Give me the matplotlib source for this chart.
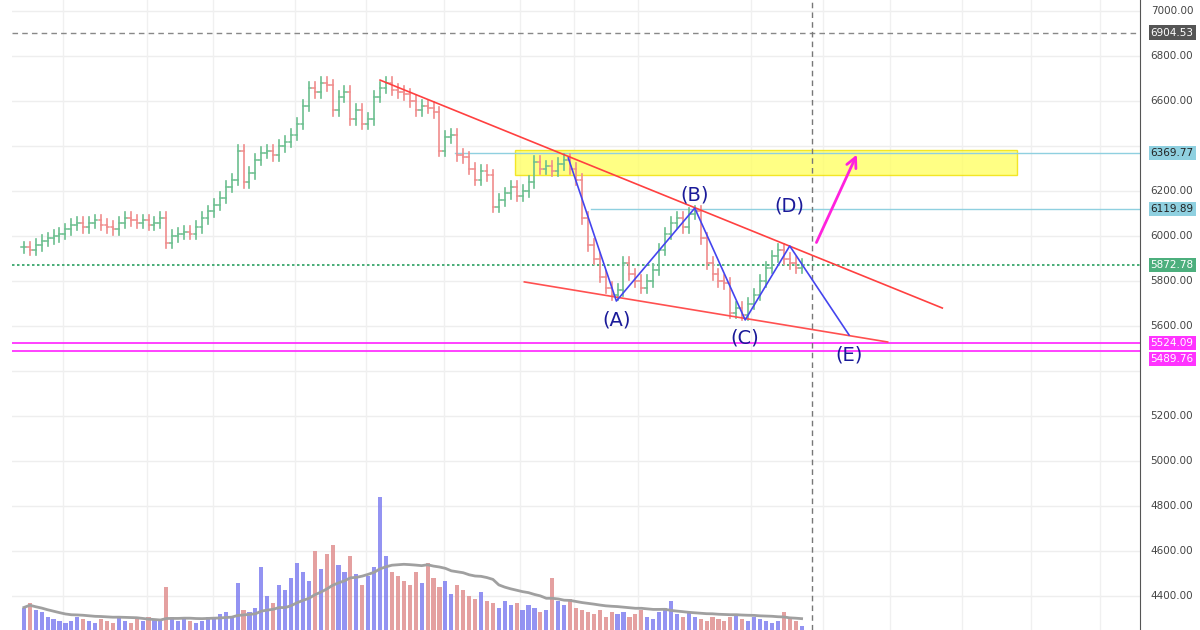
import numpy as np
import matplotlib.pyplot as plt
from matplotlib.patches import Rectangle

# === Price data (daily closes) ===
closes = [
    5950, 5940, 5960, 5980, 5990, 6000, 6010, 6030, 6050, 6060,
    6040, 6060, 6070, 6050, 6040, 6030, 6060, 6080, 6070, 6060,
    6070, 6050, 6060, 6080, 5970, 6000, 6010, 6020, 6010, 6040,
    6080, 6110, 6140, 6170, 6220, 6250, 6380, 6240, 6280, 6340,
    6370, 6380, 6360, 6400, 6420, 6450, 6500, 6580, 6660, 6640,
    6680, 6670, 6560, 6620, 6640, 6520, 6560, 6500, 6520, 6620,
    6660, 6680, 6650, 6640, 6630, 6600, 6560, 6580, 6570, 6550,
    6380, 6440, 6450, 6360, 6350, 6300, 6250, 6290, 6270, 6130,
    6160, 6190, 6220, 6180, 6200, 6240, 6330, 6300, 6310, 6290,
    6320, 6340, 6300, 6250, 6080, 5960, 5900, 5820, 5770, 5740,
    5760, 5880, 5830, 5800, 5770, 5800, 5850, 5940, 6010, 6060,
    6080, 6040, 6100, 6110, 5990, 5880, 5830, 5800, 5790, 5660,
    5680, 5650, 5700, 5740, 5800, 5860, 5910, 5940, 5900, 5880,
    5860, 5872.78,
]
volumes = [
    100, 120, 90, 80, 60, 50, 40, 30, 40, 60,
    50, 40, 30, 50, 40, 30, 60, 40, 30, 50,
    40, 60, 50, 40, 190, 60, 40, 50, 40, 30,
    40, 60, 50, 70, 80, 60, 210, 90, 80, 100,
    280, 150, 120, 200, 180, 230, 300, 260, 220, 350,
    270, 340, 380, 290, 260, 330, 250, 200, 240, 280,
    590, 330, 260, 240, 220, 200, 260, 210, 300, 230,
    190, 220, 160, 200, 180, 150, 140, 170, 130, 120,
    100, 130, 110, 120, 90, 110, 100, 80, 90, 230,
    130, 110, 140, 100, 90, 80, 70, 90, 60, 80,
    70, 80, 60, 70, 90, 60, 50, 80, 100, 130,
    70, 60, 80, 60, 50, 40, 60, 50, 40, 60,
    70, 50, 40, 60, 50, 40, 30, 40, 80, 50,
    40, 20,
]

# wave points (bar index, price)
wave_x = [91.7, 99.8, 113.0, 121.5, 129.0, 139.0]
wave_y = [6347, 5711, 6124, 5627, 5956, 5560]
wave_labels = ["(A)", "(B)", "(C)", "(D)", "(E)"]
label_y = [5627, 6182, 5547, 6133, 5471]

price_levels = [6904.53, 6369.77, 6119.89, 5872.78, 5524.09, 5489.76]
axis_ticks = [4400, 4600, 4800, 5000, 5200, 5400, 5600, 5800, 6000, 6200, 6400, 6600, 6800, 7000]

YMIN, YMAX = 4249, 7049
XMAX = 188
WICK = 25

fig = plt.figure(figsize=(12, 6.3), dpi=100)
ax = fig.add_axes([0.01, 0, 0.94, 1])
ax.set_xlim(-2, XMAX)
ax.set_ylim(YMIN, YMAX)

# grid
for y in axis_ticks:
    ax.axhline(y, color="#eeeeee", lw=1, zorder=0)
for px in [52, 136, 203, 286, 358, 437, 513, 568, 633, 747, 820, 887, 960, 1030, 1100]:
    ax.axvline((px - 12) / 6, color="#f0f0f0", lw=1, zorder=0)

# volume bars + MA
opens = [closes[0]] + closes[:-1]
idx = np.arange(len(closes))
vcol = ["#8080f0" if c >= o else "#e09090" for o, c in zip(opens, closes)]
ax.bar(idx, volumes, bottom=YMIN, width=0.7, color=vcol, alpha=0.85, zorder=1)
ma = np.convolve(volumes, np.ones(20) / 20, mode="full")[:len(volumes)]
ma[:19] = np.cumsum(volumes)[:19] / np.arange(1, 20)
ax.plot(idx, YMIN + ma, color="#a0a0a0", lw=2, zorder=2)

# OHLC bars
for i, (o, c) in enumerate(zip(opens, closes)):
    col = "#6cbf8f" if c >= o else "#f08c8c"
    hi, lo = max(o, c) + WICK, min(o, c) - WICK
    ax.plot([i, i], [lo, hi], color=col, lw=1.2, zorder=3)
    ax.plot([i - 0.4, i], [o, o], color=col, lw=1.1, zorder=3)
    ax.plot([i, i + 0.4], [c, c], color=col, lw=1.1, zorder=3)

# yellow zone
ax.add_patch(Rectangle((82.8, 6271), 167.2 - 82.8, 6382 - 6271,
                       facecolor="#ffff66", edgecolor="#f0e000", alpha=0.8, zorder=2))

# horizontal levels
ax.axhline(6904.53, color="#888888", ls=(0, (4, 3)), lw=1)
ax.plot([72.7, XMAX], [6369.77] * 2, color="#8fd0e0", lw=1)
ax.plot([95.5, XMAX], [6119.89] * 2, color="#8fd0e0", lw=1)
ax.axhline(5872.78, color="#2aa060", ls=(0, (1.5, 1.5)), lw=1.2)
ax.axhline(5524.09, color="#ff33ff", lw=1.3)
ax.axhline(5489.76, color="#ff33ff", lw=1.3)
ax.axvline(132.7, color="#777777", ls=(0, (4, 3)), lw=1)

# trend lines
ax.plot([60, 154.7], [6693, 5680], color="#ff4040", lw=1.2, zorder=4)
ax.plot([84.3, 145.5], [5796, 5529], color="#ff5050", lw=1.2, zorder=4)

# wave path
ax.plot(wave_x, wave_y, color="#4444ee", lw=1.2, zorder=5)
for x, y, t in zip(wave_x[1:], label_y, wave_labels):
    ax.text(x, y, t, color="#1a1a99", fontsize=14, ha="center", va="center", zorder=6)

ax.annotate("", xy=(140.5, 6373), xytext=(133.3, 5960),
            arrowprops=dict(arrowstyle="->", color="#ff22dd", lw=2, mutation_scale=18))

# right axis labels
for y in axis_ticks:
    if y in (6400, 5400):
        continue  # hidden behind the badges
    ax.text(XMAX + 1.8, y, f"{y:.2f}", fontsize=7.5, color="#444444",
            va="center", ha="left")
badge = {6904.53: ("#555555", "white"), 6369.77: ("#8fd0e0", "#222222"),
         6119.89: ("#8fd0e0", "#222222"), 5872.78: ("#4caf7d", "white"),
         5524.09: ("#ff33ff", "white"), 5489.76: ("#ff33ff", "white")}
# the two magenta badges are nudged apart so they don't sit on top of each other
badge_shift = {5524.09: 0, 5489.76: -36}
for lvl in price_levels:
    bg, fg = badge[lvl]
    ax.text(XMAX + 1.8, lvl + badge_shift.get(lvl, 0), f"{lvl:.2f}", fontsize=7.5,
            color=fg, va="center", ha="left", zorder=7, clip_on=False,
            bbox=dict(boxstyle="square,pad=0.2", fc=bg, ec="none"))

for s in ["top", "left", "bottom"]:
    ax.spines[s].set_visible(False)
ax.spines["right"].set_color("#555555")
ax.set_xticks([])
ax.set_yticks([])

fig.savefig("out.png", dpi=100)
